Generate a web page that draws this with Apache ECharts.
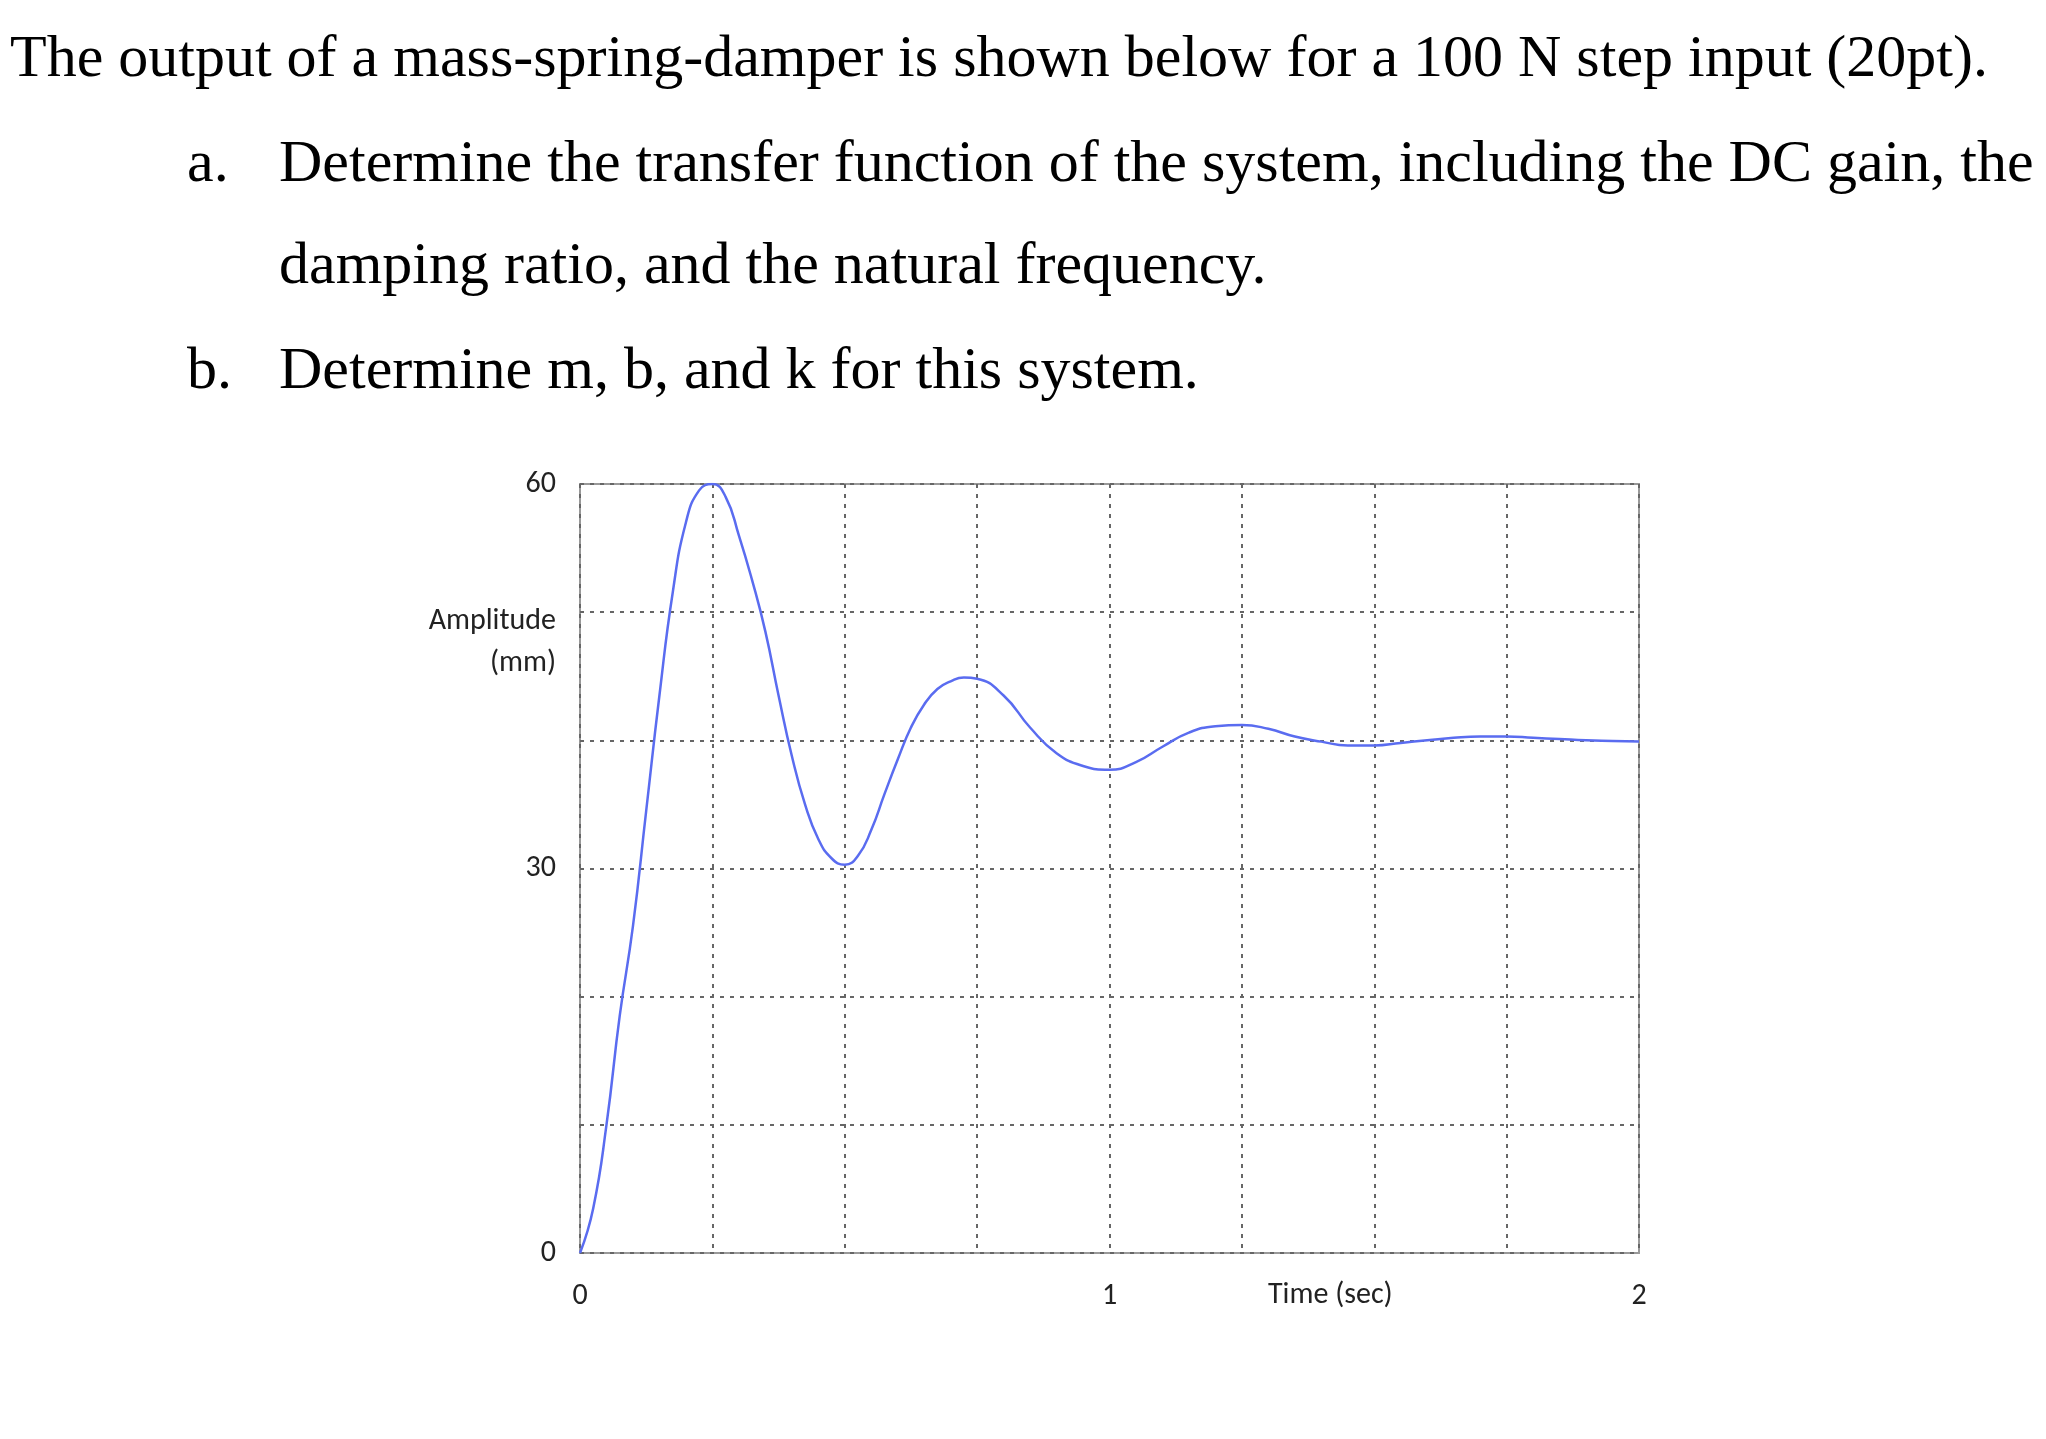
<!doctype html>
<html lang="en">
<head>
<meta charset="UTF-8">
<script src="https://cdn.jsdelivr.net/npm/echarts@6/dist/echarts.min.js"></script>
<style>html,body{margin:0;background:#fff}</style>
</head>
<body>
<div id="main" style="width:2046px;height:1439px;"></div>
<script>
// step response
var time = [0,0.025,0.05,0.075,0.1,0.125,0.15,0.175,0.2,0.225,0.25,0.275,0.3,0.325,0.35,0.375,0.4,0.425,0.45,0.475,0.5,0.525,0.55,0.575,0.6,0.625,0.65,0.675,0.7,0.725,0.75,0.8,0.85,0.9,0.95,1.0,1.05,1.1,1.15,1.2,1.25,1.3,1.35,1.4,1.45,1.5,1.55,1.6,1.65,1.7,1.75,1.8,1.85,1.9,1.95,2.0];
var amplitude = [0,3.5,10,18.5,25.5,34.5,43.5,51.5,57,59.5,60,59,56,52.5,48.5,43.5,38.8,35,32.3,30.8,30.3,31,33,35.8,38.5,41,42.8,44,44.6,44.9,44.8,43.5,41,39,38,37.7,38.3,39.5,40.6,41.1,41.2,40.9,40.3,39.9,39.6,39.6,39.8,40,40.2,40.3,40.3,40.2,40.1,40,39.95,39.9];
var yTickLabels = [0, 30, 60];
var xTickLabels = [0, 1, 2];

var serif = 'Liberation Serif';
var sans = 'Carlito, "Open Sans", sans-serif';
var txt = function (x, y, s) {
    return { type: 'text', left: x, top: y, style: { text: s, font: '60px "' + serif + '"', fill: '#000', verticalAlign: 'middle' } };
};
var small = function (pos, s) {
    pos.type = 'text';
    pos.style = { text: s, font: '500 30px ' + sans, fill: '#222' };
    return pos;
};

var myChart = echarts.init(document.getElementById('main'));
var option = {
    animation: false,
    backgroundColor: '#fff',
    graphic: [
        txt(10, 30, 'The output of a mass-spring-damper is shown below for a 100 N step input (20pt).'),
        txt(187, 135, 'a.'),
        txt(279, 135, 'Determine the transfer function of the system, including the DC gain, the'),
        txt(279, 237, 'damping ratio, and the natural frequency.'),
        txt(187, 342, 'b.'),
        txt(279, 342, 'Determine m, b, and k for this system.'),
        small({ right: 2046 - 556, top: 606 }, 'Amplitude'),
        small({ right: 2046 - 556, top: 648 }, '(mm)'),
        small({ left: 1268, top: 1280 }, 'Time (sec)')
    ],
    grid: { left: 580, right: 407, top: 484, bottom: 186, show: true, borderColor: '#999', borderWidth: 2 },
    xAxis: {
        type: 'value', min: 0, max: 2, interval: 0.25,
        axisLine: { show: false }, axisTick: { show: false },
        axisLabel: {
            margin: 28, fontSize: 30, fontWeight: 500, color: '#222', fontFamily: sans,
            formatter: function (v) { return xTickLabels.indexOf(v) >= 0 ? String(v) : ''; }
        },
        splitLine: { lineStyle: { color: '#666', type: [4, 6], width: 2 } }
    },
    yAxis: {
        type: 'value', min: 0, max: 60, interval: 10,
        axisLine: { show: false }, axisTick: { show: false },
        axisLabel: {
            margin: 24, fontSize: 30, fontWeight: 500, color: '#222', fontFamily: sans,
            formatter: function (v) { return yTickLabels.indexOf(v) >= 0 ? String(v) : ''; }
        },
        splitLine: { lineStyle: { color: '#666', type: [4, 6], width: 2 } }
    },
    series: [{
        type: 'line',
        smooth: 0.5,
        showSymbol: false,
        data: time.map(function (t, i) { return [t, amplitude[i]]; }),
        lineStyle: { color: '#5a6cf0', width: 2.5 }
    }]
};
myChart.setOption(option);
</script>
</body>
</html>
